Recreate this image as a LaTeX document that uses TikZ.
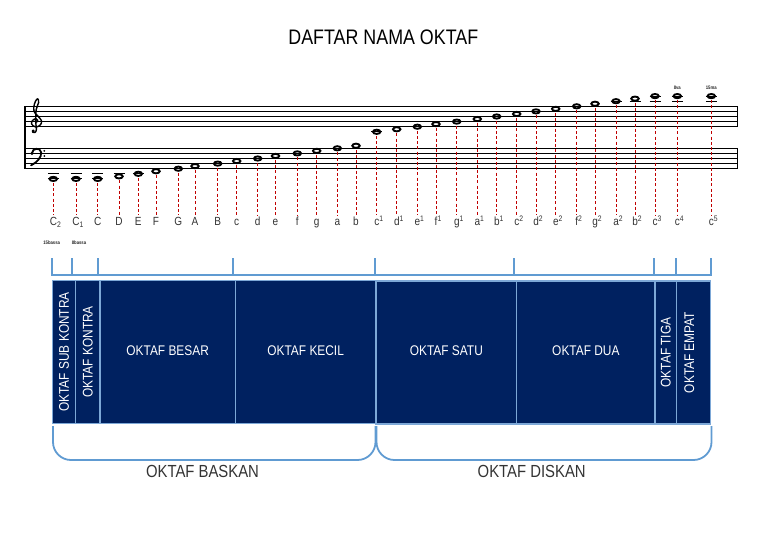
\documentclass[tikz,border=0pt]{standalone}
\usepackage{fontspec}
\setmainfont{Liberation Sans}[FakeStretch=0.85]
\usetikzlibrary{shapes.geometric}
\definecolor{navy}{RGB}{0,33,96}
\definecolor{lblue}{RGB}{96,155,210}
\definecolor{bord}{RGB}{125,168,215}
\definecolor{dred}{RGB}{192,0,0}
\newcommand\nsup[1]{\raisebox{0.7ex}{\fontsize{8}{8}\selectfont #1}}
\newcommand\nsub[1]{\raisebox{-0.4ex}{\fontsize{8}{8}\selectfont #1}}
\begin{document}
\begin{tikzpicture}[x=1pt,y=-1pt,
  staffline/.style={line width=1.1pt,black},
  note/.style={ellipse,draw=black,line width=1.9pt,minimum width=7.5pt,minimum height=4.2pt,inner sep=0pt},
  ledger/.style={line width=1.1pt,black},
  guide/.style={dred,line width=0.9pt,dash pattern=on 3pt off 2.2pt},
  notelabel/.style={anchor=base,inner sep=0pt,text height=8.5pt,text depth=2pt,font=\fontsize{11.8}{12}\selectfont,text=black!80},
  tiny/.style={inner sep=0pt,font=\fontsize{5}{5}\selectfont\bfseries,text=black!85},
  box/.style={draw=bord,line width=1.2pt,fill=navy,inner sep=0pt,text=white,font=\fontsize{14}{14}\selectfont},
  brk/.style={lblue,line width=1.8pt},
  biglabel/.style={inner sep=0pt,font=\fontsize{17.5}{18}\selectfont,text=black!80}
]
\useasboundingbox (0,0) rectangle (768,544);

% title
\node[inner sep=0pt,font=\fontsize{21}{21}\selectfont] (title) at (383.3,37.5) {DAFTAR NAMA OKTAF};

% staves
\foreach \k in {0,...,4}{
  \draw[staffline] (25,106.3+5.1*\k) -- (737.7,106.3+5.1*\k);
  \draw[staffline] (25,148.3+5.1*\k) -- (737.7,148.3+5.1*\k);
}
\draw[staffline] (25,106.3) -- (25,168.7);
\draw[staffline] (737.7,106.3) -- (737.7,126.7);
\draw[staffline] (737.7,148.3) -- (737.7,168.7);

% treble clef
\begin{scope}[shift={(36,121.6)}]
\draw[line width=1.4pt,line cap=round,line join=round] plot[smooth,tension=0.6] coordinates {
 (0.5,0.5) (1.8,-1.3) (0,-3) (-3.6,-1) (-4.3,2.6) (0,5.5) (4.6,3) (5.4,-1) (2.2,-5.2) (-1.3,-9) (-2.3,-14) (-0.6,-20.2) (1.7,-22.8) (2.6,-19) (0.2,-12) (-0.3,0) (0.4,7.8) (-1,10.9) (-3.3,10.6) (-3.4,8.8)};
\fill (-2.6,9.3) circle (1.5pt);
\end{scope}

% bass clef
\begin{scope}[shift={(32,153.4)}]
\fill (0,0) circle (1.8pt);
\draw[line width=1.8pt,line cap=round] (0,0) .. controls (0,-5.5) and (8.5,-6.5) .. (9.2,-1) .. controls (9.6,4) and (5,9) .. (-1,12);
\fill (12.3,-2.55) circle (1pt);
\fill (12.3,2.55) circle (1pt);
\end{scope}

% ledger lines
\foreach \x in {53.3,76,97.7}{
  \draw[ledger] (\x-5.5,173.8) -- (\x+5.5,173.8);
  \draw[ledger] (\x-5.5,178.9) -- (\x+5.5,178.9);
}
\foreach \x in {119,138.3}{\draw[ledger] (\x-5.5,173.8) -- (\x+5.5,173.8);}
\draw[ledger] (376.7-5.5,131.8) -- (376.7+5.5,131.8);
\foreach \x in {616,635,655,677.3,711.3}{\draw[ledger] (\x-5.5,101.2) -- (\x+5.5,101.2);}
\foreach \x in {655,677.3,711.3}{\draw[ledger] (\x-5.5,96.1) -- (\x+5.5,96.1);}

% notes, labels and guides
\foreach \x/\y/\lab/\dx [count=\i] in {
 53.3/178.9/C\nsub{2}/2, 76/178.9/C\nsub{1}/2, 97.7/178.9/C/0, 119/176.35/D/0,
 138.3/173.8/E/0, 156/171.25/F/0, 178.3/168.7/G/0, 195/166.15/A/0,
 217.7/163.6/B/0, 236.7/161.05/c/0, 257.7/158.5/d/0, 275.5/155.95/e/0,
 297.3/153.4/f/0, 316.7/150.85/g/0, 337.3/148.3/a/0, 356/145.75/b/0,
 376.7/131.8/c\nsup{1}/2, 396.7/129.25/d\nsup{1}/2, 417.3/126.7/e\nsup{1}/2, 436/124.15/f\nsup{1}/2,
 456.7/121.6/g\nsup{1}/2, 477.3/119.05/a\nsup{1}/2, 496.7/116.5/b\nsup{1}/2, 516.7/113.95/c\nsup{2}/2,
 536/111.4/d\nsup{2}/2, 555.7/108.85/e\nsup{2}/2, 576.7/106.3/f\nsup{2}/2, 595/103.75/g\nsup{2}/2,
 616/101.2/a\nsup{2}/2, 635/98.65/b\nsup{2}/2, 655/96.1/c\nsup{3}/2, 677.3/96.1/c\nsup{4}/2,
 711.3/96.1/c\nsup{5}/2}{
  \node[note] (n\i) at (\x,\y) {};
  \node[notelabel] (l\i) at (\x+\dx,225.5) {\lab};
  \draw[guide,shorten >=2pt,shorten <=1pt] (n\i.south) -- (n\i.south |- l\i.north);
}

% octave marks
\node[tiny] (m8va) at (677.3,87.5) {8va};
\node[tiny] (m15ma) at (711.3,87.5) {15ma};
\node[tiny] (m15b) at (51.7,242.3) {15bassa};
\node[tiny] (m8b) at (79,242.3) {8bassa};

% top brackets
\foreach \a/\b in {51.7/72.3, 72.3/98.3, 98.3/233.3, 233.3/375, 375/514.3, 514.3/654, 654/676, 676/710.7}{
  \draw[brk] (\a,258) -- (\a,275) -- (\b,275) -- (\b,258);
}

% octave boxes
\node[box,minimum width=23.4pt,minimum height=143pt] (b1) at (64,352) {\rotatebox{90}{OKTAF SUB KONTRA}};
\node[box,minimum width=24.3pt,minimum height=143pt] (b2) at (87.85,352) {\rotatebox{90}{OKTAF KONTRA}};
\node[box,minimum width=135.3pt,minimum height=143pt] (b3) at (167.65,352) {\raisebox{3pt}{OKTAF BESAR}};
\node[box,minimum width=140.7pt,minimum height=143pt] (b4) at (305.65,352) {\raisebox{3pt}{OKTAF KECIL}};
\node[box,minimum width=140.7pt,minimum height=143pt] (b5) at (446.35,352.5) {\raisebox{3pt}{OKTAF SATU}};
\node[box,minimum width=138.3pt,minimum height=143pt] (b6) at (585.85,352.5) {\raisebox{3pt}{OKTAF DUA}};
\node[box,minimum width=21.7pt,minimum height=143pt] (b7) at (665.85,352.5) {\rotatebox{90}{OKTAF TIGA}};
\node[box,minimum width=34pt,minimum height=143pt] (b8) at (693.7,352.5) {\rotatebox{90}{OKTAF EMPAT}\hspace*{9pt}};

% bottom braces
\draw[brk,rounded corners=18pt] (53,426) -- (53,460) -- (375.5,460) -- (375.5,426);
\draw[brk,rounded corners=18pt] (376.5,426) -- (376.5,460) -- (711.5,460) -- (711.5,426);

\node[biglabel] (bas) at (202.5,471.7) {OKTAF BASKAN};
\node[biglabel] (dis) at (531.7,471.7) {OKTAF DISKAN};
\end{tikzpicture}
\end{document}
